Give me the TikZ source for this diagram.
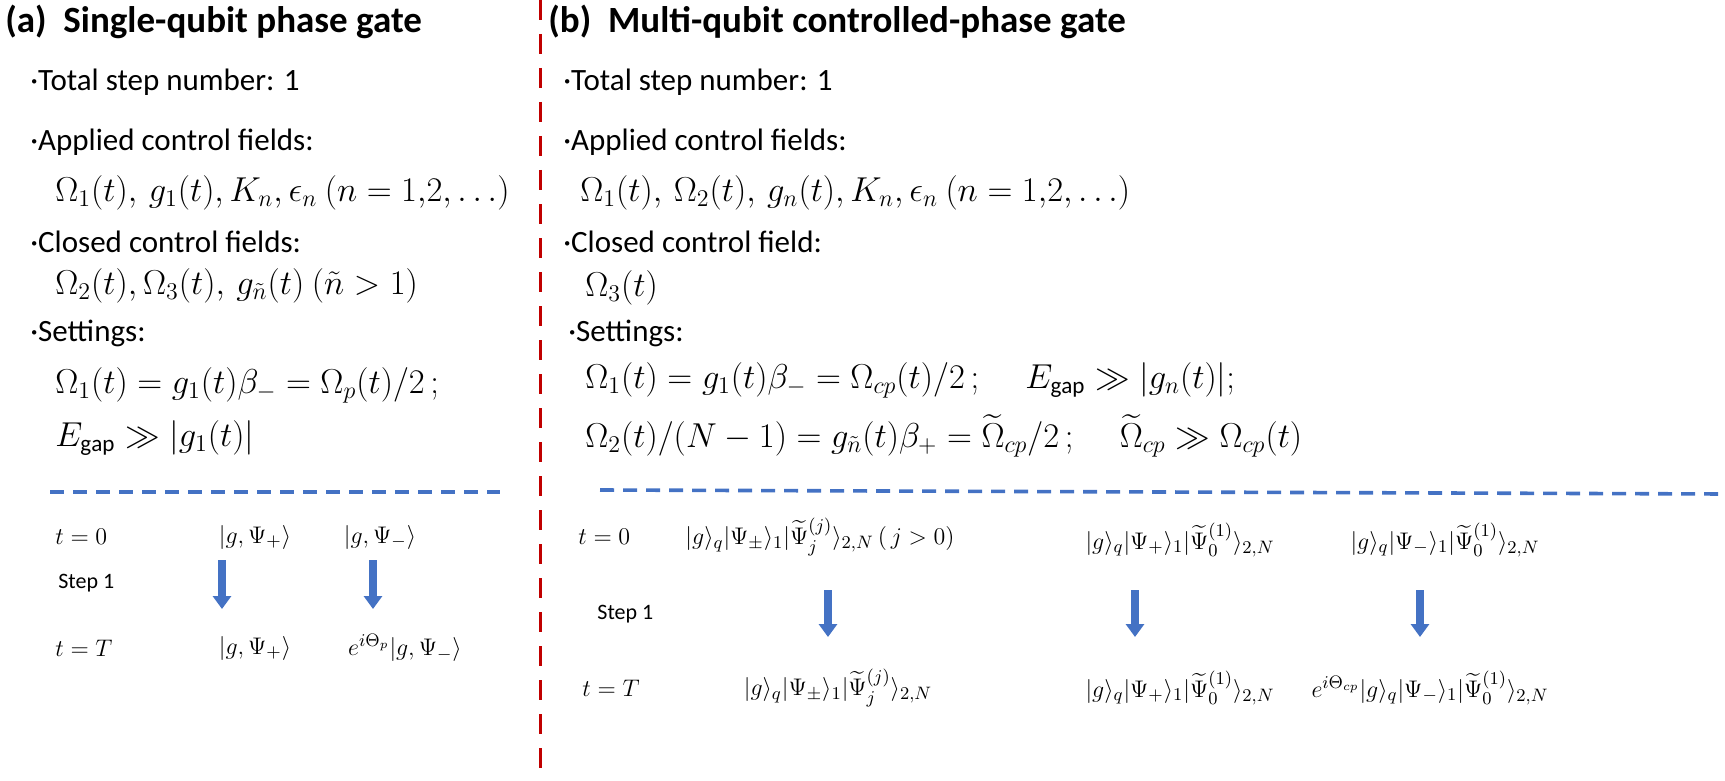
\documentclass[tikz,border=0pt]{standalone}
\usepackage{amsmath,amssymb}
\usepackage{fontspec}
\setmainfont{Carlito}
\usetikzlibrary{arrows.meta}
\definecolor{myblue}{HTML}{4472C4}
\definecolor{myred}{HTML}{C00000}
\tikzset{
  head/.style={anchor=west,font=\fontsize{18.5}{22}\selectfont\bfseries,inner sep=0},
  txt/.style={anchor=west,font=\fontsize{15.5}{18}\selectfont,inner sep=0},
  mth/.style={anchor=west,font=\fontsize{16.5}{19}\selectfont,inner sep=0},
  sm/.style={anchor=center,font=\fontsize{12.5}{15}\selectfont,inner sep=0},
  smw/.style={anchor=west,font=\fontsize{12.5}{15}\selectfont,inner sep=0},
  xs/.style={anchor=center,font=\fontsize{12.5}{15}\selectfont,inner sep=0},
  blk/.style={myblue,line width=4pt,-{Triangle[width=9pt,length=6.5pt]}},
  sep/.style={myblue,line width=1.8pt,dash pattern=on 7pt off 4.5pt},
}
\begin{document}
\begin{tikzpicture}[x=0.5pt,y=-0.5pt]
\useasboundingbox (0,0) rectangle (1725,781);
\draw[myred,line width=1.5pt,dash pattern=on 10pt off 7pt] (540,0) -- (540,781);
% (a)
\node[head] (ha) at (5,22) {(a)\ \ Single-qubit phase gate};
\node[txt] (a1) at (30,82) {·Total step number: 1};
\node[txt] (a2) at (30,142) {·Applied control fields:};
\node[mth] (a3) at (55,193) {$\Omega_1(t),\, g_1(t), K_n, \epsilon_n\ (n=1{,}2,\ldots)$};
\node[txt] (a4) at (30,242) {·Closed control fields:};
\node[mth] (a5) at (55,286) {$\Omega_2(t), \Omega_3(t),\, g_{\tilde n}(t)\ (\tilde n>1)$};
\node[txt] (a6) at (30,333) {·Settings:};
\node[mth] (a7) at (55,385) {$\Omega_1(t)=g_1(t)\beta_-=\Omega_p(t)/2\,;$};
\node[mth] (a8) at (55,438) {$E_{\mathrm{gap}}\gg|g_1(t)|$};
\draw[sep] (50,492) -- (500,492);
\node[smw] (at0) at (55,537) {$t=0$};
\node[sm] (ap0) at (255,537) {$|g,\Psi_+\rangle$};
\node[sm] (am0) at (380,537) {$|g,\Psi_-\rangle$};
\node[smw,font=\fontsize{11}{13}\selectfont] (as) at (58,583) {Step 1};
\node[smw] (atT) at (55,648) {$t=T$};
\node[sm] (apT) at (255,648) {$|g,\Psi_+\rangle$};
\node[sm] (amT) at (405,648) {$e^{i\Theta_p}|g,\Psi_-\rangle$};
\coordinate (ac1) at (222,560); \coordinate (ac2) at (222,609);
\coordinate (ac3) at (373,560); \coordinate (ac4) at (373,609);
\draw[blk] (ac1) -- (ac2);
\draw[blk] (ac3) -- (ac4);
% (b)
\node[head] (hb) at (548,22) {(b)\ \ Multi-qubit controlled-phase gate};
\node[txt] (b1) at (563,82) {·Total step number: 1};
\node[txt] (b2) at (563,142) {·Applied control fields:};
\node[mth] (b3) at (580,193) {$\Omega_1(t),\, \Omega_2(t),\, g_n(t), K_n, \epsilon_n\ (n=1{,}2,\ldots)$};
\node[txt] (b4) at (563,242) {·Closed control field:};
\node[mth] (b5) at (585,288) {$\Omega_3(t)$};
\node[txt] (b6) at (568,333) {·Settings:};
\node[mth] (b7) at (585,380) {$\Omega_1(t)=g_1(t)\beta_-=\Omega_{cp}(t)/2\,;\quad\ E_{\mathrm{gap}}\gg|g_n(t)|;$};
\node[mth] (b8) at (585,436) {$\Omega_2(t)/(N-1)=g_{\tilde n}(t)\beta_+=\widetilde\Omega_{cp}/2\,;\quad\ \widetilde\Omega_{cp}\gg\Omega_{cp}(t)$};
\draw[sep] (600,490) -- (1725,494);
\node[smw] (bt0) at (578,537) {$t=0$};
\node[xs] (b10) at (820,537) {$|g\rangle_q|\Psi_\pm\rangle_1|\widetilde\Psi_j^{(j)}\rangle_{2,N}\,(\,j>0)$};
\node[xs] (b20) at (1180,540) {$|g\rangle_q|\Psi_+\rangle_1|\widetilde\Psi_0^{(1)}\rangle_{2,N}$};
\node[xs] (b30) at (1445,540) {$|g\rangle_q|\Psi_-\rangle_1|\widetilde\Psi_0^{(1)}\rangle_{2,N}$};
\node[smw,font=\fontsize{11}{13}\selectfont] (bs) at (597,614) {Step 1};
\node[smw] (btT) at (582,688) {$t=T$};
\node[xs] (b1T) at (838,688) {$|g\rangle_q|\Psi_\pm\rangle_1|\widetilde\Psi_j^{(j)}\rangle_{2,N}$};
\node[xs] (b2T) at (1180,688) {$|g\rangle_q|\Psi_+\rangle_1|\widetilde\Psi_0^{(1)}\rangle_{2,N}$};
\node[xs] (b3T) at (1430,688) {$e^{i\Theta_{cp}}|g\rangle_q|\Psi_-\rangle_1|\widetilde\Psi_0^{(1)}\rangle_{2,N}$};
\coordinate (bc1) at (828,590); \coordinate (bc2) at (828,637);
\coordinate (bc3) at (1135,590); \coordinate (bc4) at (1135,637);
\coordinate (bc5) at (1420,590); \coordinate (bc6) at (1420,637);
\draw[blk] (bc1) -- (bc2);
\draw[blk] (bc3) -- (bc4);
\draw[blk] (bc5) -- (bc6);
\end{tikzpicture}
\end{document}
